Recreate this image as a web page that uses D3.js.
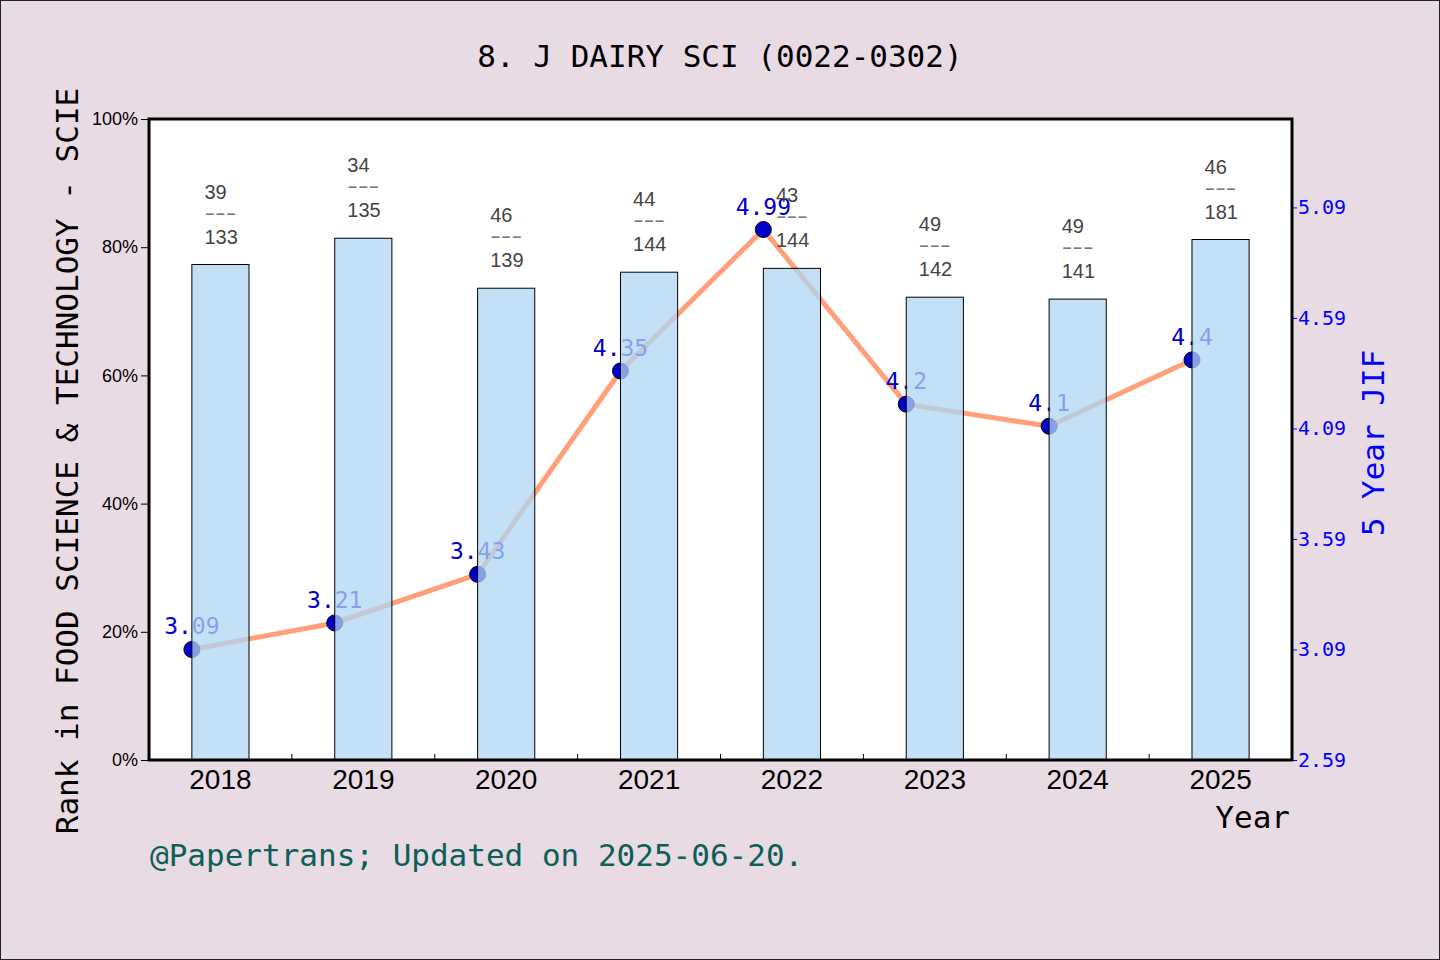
<!DOCTYPE html>
<html>
<head>
<meta charset="utf-8">
<script src="https://cdn.jsdelivr.net/npm/d3@7"></script>
<style>
  body { margin: 0; background: #e9dbe3; }
  svg { display: block; }
  .mono { font-family: "DejaVu Sans Mono", "Liberation Mono", monospace; }
  .sans { font-family: "Liberation Sans", Arial, sans-serif; }
</style>
</head>
<body>
<div id="chart"></div>
<script>

// data
const years = [2018, 2019, 2020, 2021, 2022, 2023, 2024, 2025]
const rankPct = [77.3, 81.4, 73.6, 76.1, 76.7, 72.2, 71.9, 81.2]
const rankNum = [39, 34, 46, 44, 43, 49, 49, 46]
const rankTotal = [133, 135, 139, 144, 144, 142, 141, 181]
const jif = [3.09, 3.21, 3.43, 4.35, 4.99, 4.2, 4.1, 4.4]
const jifText = ["3.09", "3.21", "3.43", "4.35", "4.99", "4.2", "4.1", "4.4"]
const pctTicks = [0, 20, 40, 60, 80, 100]
const jifTicks = [2.59, 3.09, 3.59, 4.09, 4.59, 5.09]

const title = "8. J DAIRY SCI (0022-0302)"
const leftLabel = "Rank in FOOD SCIENCE & TECHNOLOGY - SCIE"
const rightLabel = "5 Year JIF"
const footer = "@Papertrans; Updated on 2025-06-20."

const W = 1440, H = 960
const plot = { left: 149, right: 1292, top: 119, bottom: 760 }

const svg = d3.select('#chart').append('svg').attr('width', W).attr('height', H)

svg.append('rect').attr('x', 0.5).attr('y', 0.5).attr('width', W - 1).attr('height', H - 1)
  .attr('fill', '#e9dbe3').attr('stroke', '#222').attr('stroke-width', 1)

const x = d3.scaleBand().domain(years).range([plot.left, plot.right]).padding(0)
const yPct = d3.scaleLinear().domain([0, 100]).range([plot.bottom, plot.top])
const yJif = d3.scaleLinear().domain([2.59, 5.49]).range([plot.bottom, plot.top])

const barW = x.bandwidth() * 0.4
const cx = d => x(d) + x.bandwidth() / 2

// plot background
svg.append('rect')
  .attr('x', plot.left).attr('y', plot.top)
  .attr('width', plot.right - plot.left).attr('height', plot.bottom - plot.top)
  .attr('fill', 'white')

// jif line + dots (under the bars)
const pts = years.map((d, i) => ({ year: d, v: jif[i], t: jifText[i] }))

const line = d3.line()
  .x(d => cx(d.year) - barW / 2)
  .y(d => yJif(d.v))

svg.append('path').datum(pts)
  .attr('d', line)
  .attr('fill', 'none')
  .attr('stroke', '#ffa07a')
  .attr('stroke-width', 5)

svg.selectAll('circle.dot').data(pts).enter().append('circle')
  .attr('class', 'dot')
  .attr('cx', d => cx(d.year) - barW / 2)
  .attr('cy', d => yJif(d.v))
  .attr('r', 8)
  .attr('fill', '#0000cd')
  .attr('stroke', 'black')
  .attr('stroke-width', 1)

svg.selectAll('text.jif').data(pts).enter().append('text')
  .attr('class', 'jif mono')
  .attr('x', d => cx(d.year) - barW / 2)
  .attr('y', d => yJif(d.v) - 15)
  .attr('text-anchor', 'middle')
  .attr('font-size', 23)
  .attr('fill', '#0000cd')
  .text(d => d.t)

// bars, semi transparent on top of the line
svg.selectAll('rect.bar').data(years).enter().append('rect')
  .attr('class', 'bar')
  .attr('x', d => cx(d) - barW / 2)
  .attr('y', (d, i) => yPct(rankPct[i]))
  .attr('width', barW)
  .attr('height', (d, i) => yPct(0) - yPct(rankPct[i]))
  .attr('fill', 'rgb(176,213,244)')
  .attr('fill-opacity', 0.75)
  .attr('stroke', 'black')
  .attr('stroke-width', 1)

// rank labels  n / --- / N
years.forEach(function (d, i) {
  const top = yPct(rankPct[i])
  const lx = cx(d) - 16
  const g = svg.append('g').attr('class', 'sans').attr('font-size', 20).attr('fill', '#444')
  g.append('text').attr('x', lx).attr('y', top - 66).text(rankNum[i])
  // the dashes are wider in the original, stretch them
  g.append('text')
    .attr('transform', `translate(${lx},${top - 45}) scale(1.6,1)`)
    .attr('fill', '#777').text('---')
  g.append('text').attr('x', lx).attr('y', top - 21).text(rankTotal[i])
})

// axes
const axisL = d3.axisLeft(yPct).tickValues(pctTicks).tickFormat(d => d + '%').tickSize(8).tickPadding(3)
svg.append('g')
  .attr('transform', `translate(${plot.left},0)`)
  .attr('class', 'sans')
  .call(axisL)
  .call(g => g.select('.domain').remove())
  .call(g => g.selectAll('text').attr('font-size', 18).attr('fill', 'black').attr('font-family', null))

const axisR = d3.axisRight(yJif).tickValues(jifTicks).tickFormat(d3.format('.2f')).tickSize(5).tickPadding(1)
svg.append('g')
  .attr('transform', `translate(${plot.right},0)`)
  .attr('class', 'mono')
  .call(axisR)
  .call(g => g.select('.domain').remove())
  .call(g => g.selectAll('line').attr('stroke', '#0000ff'))
  .call(g => g.selectAll('text').attr('font-size', 20).attr('fill', '#0000ff').attr('font-family', null))

const axisB = d3.axisBottom(x).tickSize(0).tickPadding(9)
svg.append('g')
  .attr('transform', `translate(0,${plot.bottom})`)
  .attr('class', 'sans')
  .call(axisB)
  .call(g => g.select('.domain').remove())
  .call(g => g.selectAll('text').attr('font-size', 28).attr('fill', 'black').attr('font-family', null))

// little ticks between the years
svg.selectAll('line.minor').data(years.slice(0, -1)).enter().append('line')
  .attr('class', 'minor')
  .attr('x1', d => x(d) + x.bandwidth()).attr('x2', d => x(d) + x.bandwidth())
  .attr('y1', plot.bottom).attr('y2', plot.bottom - 6)
  .attr('stroke', 'black').attr('stroke-width', 1)

// frame
svg.append('rect')
  .attr('x', plot.left).attr('y', plot.top)
  .attr('width', plot.right - plot.left).attr('height', plot.bottom - plot.top)
  .attr('fill', 'none').attr('stroke', 'black').attr('stroke-width', 3)

// titles
svg.append('text').attr('class', 'mono')
  .attr('x', 720).attr('y', 67).attr('text-anchor', 'middle')
  .attr('font-size', 31).attr('fill', 'black').text(title)

svg.append('text').attr('class', 'mono')
  .attr('transform', 'translate(78,461) rotate(-90)')
  .attr('text-anchor', 'middle')
  .attr('font-size', 31).attr('fill', 'black').text(leftLabel)

svg.append('text').attr('class', 'mono')
  .attr('transform', 'translate(1384,443) rotate(-90)')
  .attr('text-anchor', 'middle')
  .attr('font-size', 31).attr('fill', '#0000ff').text(rightLabel)

svg.append('text').attr('class', 'mono')
  .attr('x', 1290).attr('y', 828).attr('text-anchor', 'end')
  .attr('font-size', 31).attr('fill', 'black').text('Year')

svg.append('text').attr('class', 'mono')
  .attr('x', 150).attr('y', 866)
  .attr('font-size', 31).attr('fill', '#0d5e57').text(footer)

</script>
</body>
</html>
